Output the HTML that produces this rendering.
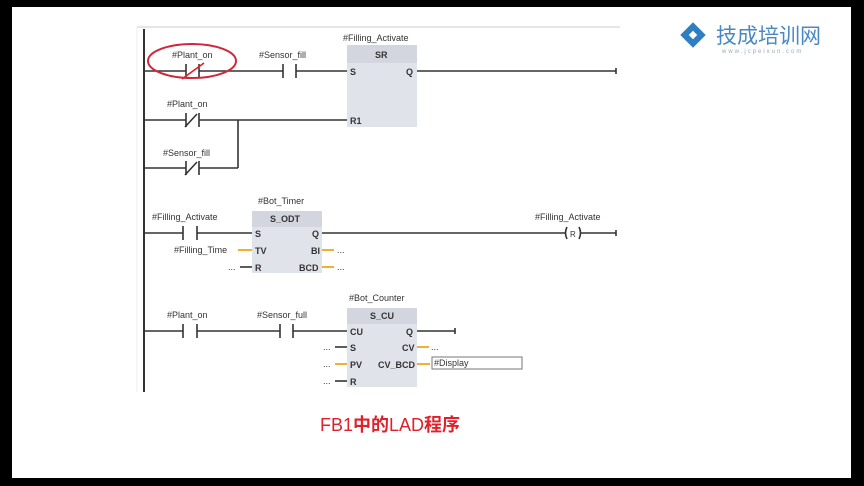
<!DOCTYPE html>
<html><head><meta charset="utf-8"><style>
html,body{margin:0;padding:0;background:#000;}
svg{display:block;}
text{font-family:"Liberation Sans","Noto Sans CJK SC",sans-serif;}
</style></head><body>
<svg width="864" height="486" viewBox="0 0 864 486" xmlns="http://www.w3.org/2000/svg">
<rect x="0" y="0" width="864" height="486" fill="#000"/>
<rect x="12" y="7" width="839" height="471" fill="#fff"/>
<line x1="137" y1="27" x2="620" y2="27" stroke="#e6e6e6" stroke-width="2"/>
<line x1="137" y1="27" x2="137" y2="392" stroke="#eee" stroke-width="1"/>
<line x1="144" y1="29" x2="144" y2="392" stroke="#333" stroke-width="2"/>
<g stroke="#333" stroke-width="1.6" fill="none">
<line x1="144" y1="71" x2="186" y2="71"/><line x1="186" y1="64" x2="186" y2="78"/><line x1="199" y1="64" x2="199" y2="78"/><line x1="199" y1="71" x2="283" y2="71"/>
<line x1="283" y1="64" x2="283" y2="78"/><line x1="296" y1="64" x2="296" y2="78"/><line x1="296" y1="71" x2="347" y2="71"/>
<line x1="417" y1="71" x2="616" y2="71"/><line x1="616" y1="68" x2="616" y2="74"/>
<line x1="144" y1="120" x2="186" y2="120"/><line x1="186" y1="113" x2="186" y2="127"/><line x1="199" y1="113" x2="199" y2="127"/><line x1="185" y1="127" x2="197" y2="114"/><line x1="199" y1="120" x2="347" y2="120"/>
<line x1="238" y1="120" x2="238" y2="168"/>
<line x1="144" y1="168" x2="186" y2="168"/><line x1="186" y1="161" x2="186" y2="175"/><line x1="199" y1="161" x2="199" y2="175"/><line x1="185" y1="175" x2="197" y2="162"/><line x1="199" y1="168" x2="238" y2="168"/>
<line x1="144" y1="233" x2="183" y2="233"/><line x1="183" y1="226" x2="183" y2="240"/><line x1="197" y1="226" x2="197" y2="240"/><line x1="197" y1="233" x2="252" y2="233"/>
<line x1="322" y1="233" x2="565" y2="233"/>
<path d="M567 227 Q564 233 567 239"/><path d="M579 227 Q582 233 579 239"/>
<line x1="581" y1="233" x2="616" y2="233"/><line x1="616" y1="230" x2="616" y2="236"/>
<line x1="240" y1="267" x2="252" y2="267"/>
<line x1="144" y1="331" x2="183" y2="331"/><line x1="183" y1="324" x2="183" y2="338"/><line x1="197" y1="324" x2="197" y2="338"/><line x1="197" y1="331" x2="280" y2="331"/>
<line x1="280" y1="324" x2="280" y2="338"/><line x1="293" y1="324" x2="293" y2="338"/><line x1="293" y1="331" x2="347" y2="331"/>
<line x1="417" y1="331" x2="455" y2="331"/><line x1="455" y1="328" x2="455" y2="334"/>
<line x1="335" y1="347" x2="347" y2="347"/><line x1="335" y1="381" x2="347" y2="381"/>
</g>
<line x1="182" y1="79" x2="204" y2="63" stroke="#d22" stroke-width="1.6"/>
<ellipse cx="192" cy="61" rx="44" ry="17" fill="none" stroke="#d0283a" stroke-width="2"/>
<g stroke="#f0b030" stroke-width="2">
<line x1="238" y1="250" x2="252" y2="250"/><line x1="322" y1="250" x2="334" y2="250"/><line x1="322" y1="267" x2="334" y2="267"/>
<line x1="335" y1="364" x2="347" y2="364"/><line x1="417" y1="347" x2="429" y2="347"/><line x1="417" y1="364" x2="430" y2="364"/>
</g>
<rect x="347" y="45" width="70" height="82" fill="#e1e3ea"/><rect x="347" y="45" width="70" height="18" fill="#d3d6de"/>
<rect x="252" y="211" width="70" height="62" fill="#e1e3ea"/><rect x="252" y="211" width="70" height="16" fill="#d3d6de"/>
<rect x="347" y="308" width="70" height="79" fill="#e1e3ea"/><rect x="347" y="308" width="70" height="16" fill="#d3d6de"/>
<rect x="432" y="357" width="90" height="12" fill="#fff" stroke="#777" stroke-width="1"/>
<g font-size="9" fill="#333">
<text x="172" y="58">#Plant_on</text>
<text x="259" y="58">#Sensor_fill</text>
<text x="343" y="41">#Filling_Activate</text>
<text x="167" y="107">#Plant_on</text>
<text x="163" y="156">#Sensor_fill</text>
<text x="258" y="204">#Bot_Timer</text>
<text x="152" y="220">#Filling_Activate</text>
<text x="535" y="220">#Filling_Activate</text>
<text x="174" y="253">#Filling_Time</text>
<text x="167" y="318">#Plant_on</text>
<text x="257" y="318">#Sensor_full</text>
<text x="349" y="301">#Bot_Counter</text>
<text x="434" y="366">#Display</text>
<text x="228" y="270">...</text><text x="337" y="253">...</text><text x="337" y="270">...</text>
<text x="323" y="350">...</text><text x="323" y="367">...</text><text x="323" y="384">...</text><text x="431" y="350">...</text>
<text x="570" y="237" font-size="8">R</text>
</g>
<g font-size="9" font-weight="bold" fill="#333">
<text x="375" y="58">SR</text>
<text x="350" y="75">S</text><text x="406" y="75">Q</text><text x="350" y="124">R1</text>
<text x="270" y="222">S_ODT</text>
<text x="255" y="237">S</text><text x="312" y="237">Q</text>
<text x="255" y="254">TV</text><text x="311" y="254">BI</text>
<text x="255" y="271">R</text><text x="299" y="271">BCD</text>
<text x="370" y="319">S_CU</text>
<text x="350" y="335">CU</text><text x="406" y="335">Q</text>
<text x="350" y="351">S</text><text x="402" y="351">CV</text>
<text x="350" y="368">PV</text><text x="378" y="368">CV_BCD</text>
<text x="350" y="385">R</text>
</g>
<text x="320" y="431" font-size="18" fill="#e0202a"><tspan>FB1</tspan><tspan font-weight="bold">中的</tspan><tspan>LAD</tspan><tspan font-weight="bold">程序</tspan></text>
<g transform="translate(693,35) rotate(45)"><rect x="-9" y="-9" width="18" height="18" fill="#2f7fc0"/><rect x="-3" y="-3" width="6" height="6" fill="#fff"/></g>
<text x="716" y="43" font-size="21" fill="#4a88c2">技成培训网</text>
<text x="722" y="53" font-size="6" fill="#9ab" letter-spacing="2">www.jcpeixun.com</text>
</svg>
</body></html>
